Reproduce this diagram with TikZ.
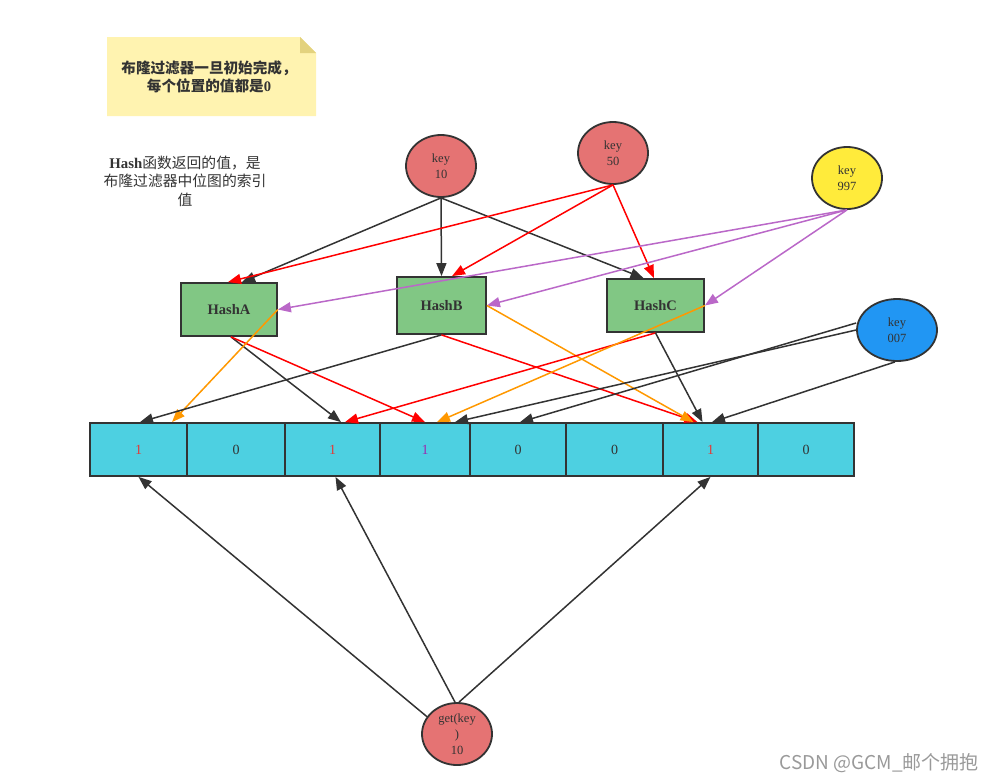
\documentclass[tikz,border=0pt]{standalone}
\usepackage{fontspec}
\setmainfont{Liberation Serif}
\newfontfamily\cjk{Noto Sans CJK SC}
\usetikzlibrary{arrows.meta,shapes.geometric}
\definecolor{ink}{HTML}{333333}
\definecolor{keyred}{HTML}{E57373}
\definecolor{hgreen}{HTML}{81C784}
\definecolor{cellcyan}{HTML}{4DD0E1}
\definecolor{kyellow}{HTML}{FFEB3B}
\definecolor{kblue}{HTML}{2196F3}
\definecolor{notefill}{HTML}{FFF3B0}
\definecolor{notefold}{HTML}{E3D27E}
\definecolor{cred}{HTML}{FF0000}
\definecolor{cpurple}{HTML}{BA68C8}
\definecolor{corange}{HTML}{FF9800}
\definecolor{onered}{HTML}{E53935}
\definecolor{onepurple}{HTML}{9C27B0}
\tikzset{
  keynode/.style={ellipse, draw=ink, line width=1.8pt, minimum width=70pt, minimum height=62pt, inner sep=0pt, align=center, text=ink, font=\fontsize{12.5}{16}\selectfont},
  hashbox/.style={rectangle, draw=ink, line width=1.8pt, fill=hgreen, inner sep=0pt, text=ink, font=\fontsize{14.5}{16}\selectfont\bfseries},
  cellbox/.style={rectangle, draw=ink, line width=1.8pt, fill=cellcyan, minimum height=53pt, inner sep=0pt, font=\fontsize{14}{16}\selectfont},
  conn/.style={line width=1.5pt, -{Triangle[length=13pt,width=10pt]}},
  blk/.style={conn, draw=ink, fill=ink},
  rd/.style={conn, draw=cred, fill=cred},
  pp/.style={conn, draw=cpurple, fill=cpurple},
  og/.style={conn, draw=corange, fill=corange},
}
\begin{document}
\begin{tikzpicture}[x=1pt,y=-1pt]
\useasboundingbox (0,0) rectangle (995,782);
% note
\fill[notefill] (107,37) -- (300,37) -- (316,53) -- (316,116) -- (107,116) -- cycle;
\fill[notefold] (300,37) -- (316,53) -- (300,53) -- cycle;
\node[align=center, text=ink, font=\fontsize{14.6}{18}\selectfont\bfseries] (note) at (209,77)
  {{\cjk 布隆过滤器一旦初始完成，}\\{\cjk 每个位置的值都是}0};
\node[align=center, text=ink, font=\fontsize{14.8}{18.5}\selectfont] (hashnote) at (185,181)
  {\textbf{Hash}{\cjk 函数返回的值，是}\\{\cjk 布隆过滤器中位图的索引}\\{\cjk 值}};
% keys
\node[keynode, fill=keyred] (k10) at (441,166) {key\\10};
\node[keynode, fill=keyred] (k50) at (613,153) {key\\50};
\node[keynode, fill=kyellow] (k997) at (847,178) {key\\997};
\node[keynode, fill=kblue, minimum width=80pt] (k007) at (897,330) {key\\007};
\node[keynode, fill=keyred] (get) at (457,734) {get(key\\)\\10};
% hashes
\node[hashbox, minimum width=96pt, minimum height=53pt] (hA) at (229,309.5) {HashA};
\node[hashbox, minimum width=89pt, minimum height=57pt] (hB) at (441.5,305.5) {HashB};
\node[hashbox, minimum width=97pt, minimum height=53pt] (hC) at (655.5,305.5) {HashC};
% cells
\node[cellbox, minimum width=97pt, text=onered] (c1) at (138.5,449.5) {1};
\node[cellbox, minimum width=98pt, text=ink] (c2) at (236,449.5) {0};
\node[cellbox, minimum width=95pt, text=onered] (c3) at (332.5,449.5) {1};
\node[cellbox, minimum width=90pt, text=onepurple] (c4) at (425,449.5) {1};
\node[cellbox, minimum width=96pt, text=ink] (c5) at (518,449.5) {0};
\node[cellbox, minimum width=97pt, text=ink] (c6) at (614.5,449.5) {0};
\node[cellbox, minimum width=95pt, text=onered] (c7) at (710.5,449.5) {1};
\node[cellbox, minimum width=96pt, text=ink] (c8) at (806,449.5) {0};
% key -> hash
\draw[blk] (k10.south) -- ([xshift=13pt]hA.north);
\draw[blk] (k10.south) -- (hB.north);
\draw[blk] (k10.south) -- ([xshift=-12pt]hC.north);
\draw[rd] (k50.south) -- ([xshift=-1pt]hA.north);
\draw[rd] (k50.south) -- ([xshift=10.5pt]hB.north);
\draw[rd] (k50.south) -- ([xshift=-1.5pt]hC.north);
\draw[pp] (k997.south) -- (hA.east);
\draw[pp] (k997.south) -- (hB.east);
\draw[pp] (k997.south) -- (hC.east);
% hash -> cells
\draw[blk] ([xshift=2pt]hA.south) -- ([xshift=8.5pt]c3.north);
\draw[rd] ([xshift=2pt]hA.south) -- (c4.north);
\draw[og] (hA.east) -- ([xshift=33.5pt]c1.north);
\draw[blk] (hB.south) -- ([xshift=1.5pt]c1.north);
\draw[rd] (hB.south) -- ([xshift=-13pt]c7.north);
\draw[og] (hB.east) -- ([xshift=-17pt]c7.north);
\draw[rd] (hC.south) -- ([xshift=12.5pt]c3.north);
\draw[blk] (hC.south) -- ([xshift=-8pt]c7.north);
\draw[og] (hC.east) -- ([xshift=12pt]c4.north);
% key007 -> cells
\draw[blk] (k007.west) -- ([xshift=30pt]c4.north);
\draw[blk] ([yshift=7pt]k007.west) -- ([xshift=2pt]c5.north);
\draw[blk] ([xshift=-2pt]k007.south) -- ([xshift=1.5pt]c7.north);
% get -> cells
\draw[blk] (get.150) -- (c1.south);
\draw[blk] ([xshift=-2pt]get.north) -- ([xshift=3pt]c3.south);
\draw[blk] ([xshift=2pt]get.north) -- (c7.south);
% watermark
\node[text=black!40, font=\cjk\fontsize{19}{22}\selectfont] (wm) at (879,763) {CSDN @GCM\_邮个拥抱};
\end{tikzpicture}
\end{document}
